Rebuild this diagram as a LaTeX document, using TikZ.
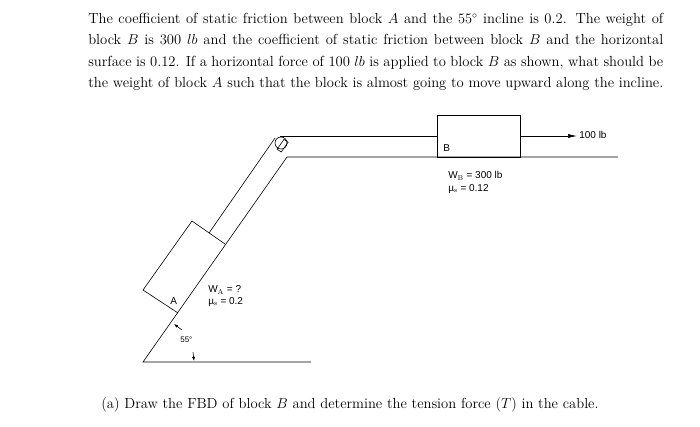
\documentclass[tikz,border=0pt]{standalone}
\usepackage{fontspec}
\newfontfamily\lab{Liberation Sans}
\usetikzlibrary{arrows.meta}
\begin{document}
\begin{tikzpicture}[x=1pt,y=-1pt,line width=0.6pt,
  lbl/.style={font=\lab\fontsize{10}{11}\selectfont,inner sep=0pt,anchor=west},
  para/.style={anchor=north west,inner sep=0pt,text width=575pt,align=justify,font=\fontsize{14.6}{21.3}\selectfont}]
\useasboundingbox (0,0) rectangle (700,426);
\node[para] (txt) at (88,13) {The coefficient of static friction between block $A$ and the $55^\circ$ incline is 0.2. The weight of block $B$ is 300 $lb$ and the coefficient of static friction between block $B$ and the horizontal surface is 0.12. If a horizontal force of 100 $lb$ is applied to block $B$ as shown, what should be the weight of block $A$ such that the block is almost going to move upward along the incline.};
\node[anchor=west,inner sep=0pt,font=\fontsize{14.6}{17}\selectfont] (cap) at (101,405) {(a) Draw the FBD of block $B$ and determine the tension force $(T)$ in the cable.};
% ground and incline
\coordinate (g0) at (143,362);
\coordinate (g1) at (311,362);
\coordinate (top) at (287,157);
\coordinate (s1) at (618,157);
\draw (g1) -- (g0) -- (top) -- (s1);
% block A
\draw (178,313) -- (143,290) -- (192,221) -- (225,244);
% cable A
\draw (209,233) -- (275,138);
% pulley
\node[circle,draw,minimum size=12pt,inner sep=0pt] (pul) at (281,143) {};
\draw[rotate around={-35:(283,146)}] (280,140) rectangle (285,152);
\draw (280,136) -- (437,136);
% block B
\draw (437,157) rectangle (520,115);
\coordinate (f0) at (520,136);
\coordinate (f1) at (577,136);
\draw[-{Latex[length=9pt,width=4pt]}] (f0) -- (f1);
\node[lbl] (f) at (579,135) {100 lb};
\node[lbl] (B) at (443,148) {B};
\node[lbl] (wb) at (448,176) {W$_\mathrm{B}$ = 300 lb};
\node[lbl] (mb) at (448,189) {µ$_\mathrm{s}$ = 0.12};
\node[lbl] (A) at (170,301) {A};
\node[lbl] (wa) at (208,290) {W$_\mathrm{A}$ = ?};
\node[lbl] (ma) at (208,302) {µ$_\mathrm{s}$ = 0.2};
\node[lbl,font=\lab\fontsize{8}{9}\selectfont] (ang) at (180,340) {55°};
\draw[-{Latex[length=4pt,width=3pt]}] (182,330) -- (174,324);
\draw[-{Latex[length=4pt,width=3pt]}] (193,352) -- (194,361);
\end{tikzpicture}
\end{document}
